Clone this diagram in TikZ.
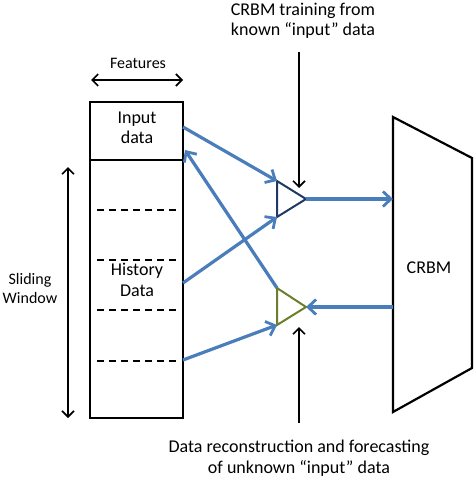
\documentclass[tikz,border=0pt]{standalone}
\usepackage{fontspec}
\setmainfont{Carlito}
\usetikzlibrary{arrows.meta}
\definecolor{lblue}{HTML}{4A7EBB}
\definecolor{navy}{HTML}{1F3864}
\definecolor{olive}{HTML}{6B7F2A}
\begin{document}
\begin{tikzpicture}[x=1pt,y=-1pt,
  txt/.style={font=\fontsize{18}{20.5}\selectfont, align=center, inner sep=0pt},
  smalltxt/.style={font=\fontsize{16}{19}\selectfont, align=center, inner sep=0pt},
  blk/.style={line width=2.2pt, black},
  barrow/.style={line width=3.2pt, lblue, -{Straight Barb[length=8pt,width=15pt,line width=2.8pt]}},
  karrow/.style={line width=1.8pt, black, -{Straight Barb[length=6pt,width=12pt,line width=1.6pt]}},
  dbarrow/.style={line width=1.8pt, black, {Straight Barb[length=6pt,width=12pt,line width=1.6pt]}-{Straight Barb[length=6pt,width=12pt,line width=1.6pt]}},
  dashline/.style={line width=1.8pt, black, dash pattern=on 7pt off 5pt}]
\useasboundingbox (0,0) rectangle (474,479);
% main column
\draw[blk] (90,102) rectangle (183,418);
\draw[blk] (90,160) -- (183,160);
\foreach \yy in {210,260,310,361} \draw[dashline] (97,\yy) -- (180,\yy);
\node[txt] (inp) at (137,128) {Input\\data};
\node[txt] (hist) at (137,280) {History\\Data};
% features
\coordinate (fl) at (91,80);
\coordinate (fr) at (183,80);
\draw[dbarrow] (fl) -- (fr);
\node[smalltxt] (feat) at (138,63) {Features};
% sliding window
\coordinate (st) at (68,167);
\coordinate (sb) at (68,418);
\draw[dbarrow] (st) -- (sb);
\node[smalltxt] (sw) at (30,288) {Sliding\\Window};
% triangles
\coordinate (t1a) at (277,181);
\coordinate (t1b) at (277,217);
\coordinate (t1c) at (306,199);
\draw[line width=2pt, navy, line join=miter] (t1a) -- (t1c) -- (t1b) -- cycle;
\coordinate (t2a) at (277,288);
\coordinate (t2b) at (277,325);
\coordinate (t2c) at (306,307);
\draw[line width=2pt, olive, line join=miter] (t2a) -- (t2c) -- (t2b) -- cycle;
% CRBM
\coordinate (c1) at (393,117);
\coordinate (c2) at (472,158);
\coordinate (c3) at (472,368);
\coordinate (c4) at (393,412);
\draw[blk, line join=miter] (c1) -- (c2) -- (c3) -- (c4) -- cycle;
\node[txt] (crbm) at (429,268) {CRBM};
% blue connectors
\coordinate (s1) at (183,127);
\coordinate (s2) at (183,283);
\coordinate (s3) at (185,150);
\coordinate (s4) at (183,360);
\coordinate (r1) at (393,199);
\coordinate (r2) at (393,307);
\draw[barrow] (s1) -- (t1a);
\draw[barrow] (s2) -- (t1b);
\draw[barrow] (t2a) -- (s3);
\draw[barrow] (s4) -- (t2b);
\draw[barrow] (t1c) -- (r1);
\draw[barrow] (r2) -- (t2c);
% black arrows and labels
\node[txt] (top) at (303,21) {CRBM training from\\known “input” data};
\coordinate (a1) at (299,52);
\coordinate (a1e) at (299,188);
\draw[karrow] (a1) -- (a1e);
\node[txt] (bot) at (299,458) {Data reconstruction and forecasting\\of unknown “input” data};
\coordinate (a2) at (299,423);
\coordinate (a2e) at (299,327);
\draw[karrow] (a2) -- (a2e);
\end{tikzpicture}
\end{document}
